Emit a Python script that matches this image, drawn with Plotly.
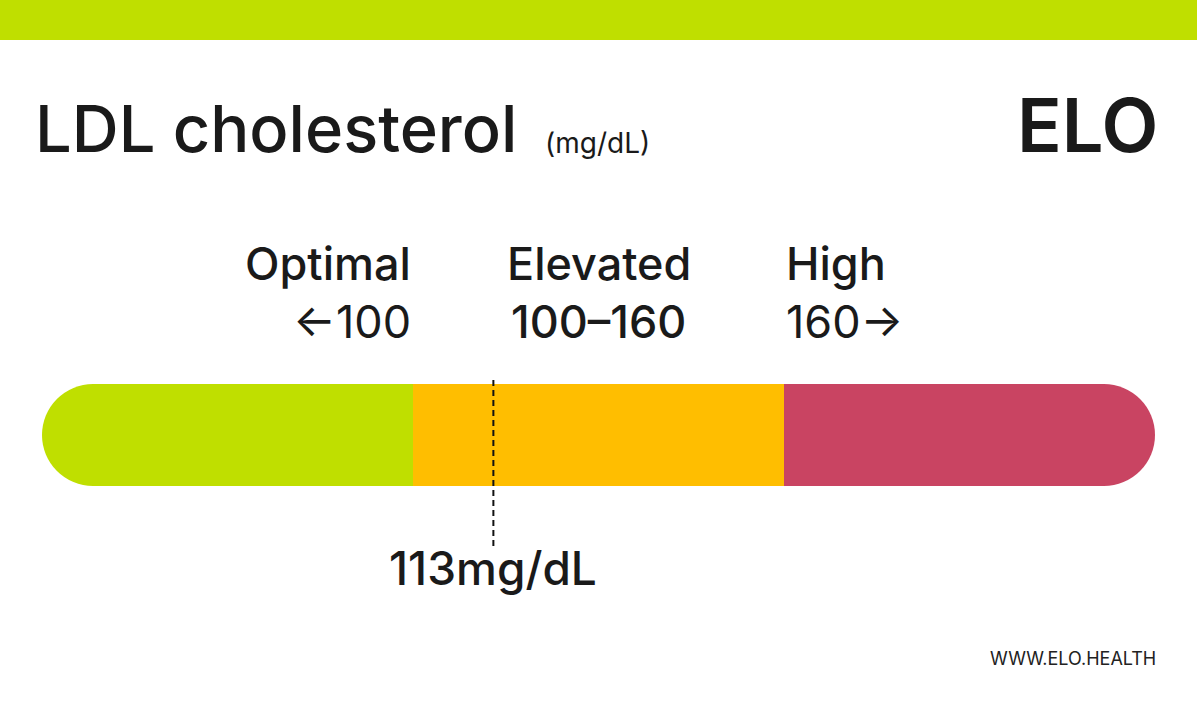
import plotly.graph_objects as go

# data
bounds = [40, 100, 160, 220]          # mg/dL segment boundaries
seg_colors = ["#BFDF00", "#FFBE00", "#C94462"]
categories = ["Optimal", "Elevated", "High"]
range_labels = ["←100", "100–160", "160→"]
value = 113
unit = "mg/dL"

W, H = 1197, 708
pxu = 371 / 60.0                 # pixels per mg/dL
x0 = 100 - 413 / pxu
x1 = x0 + W / pxu
def pv(px): return x0 + px / pxu

ytop, ybot = 384, 486
r_units = (ybot - ytop) / 2 / pxu
fig = go.Figure()
shapes = []
shapes.append(dict(type="circle", xref="x", yref="y", x0=bounds[0], x1=bounds[0] + 2 * r_units,
                   y0=ytop, y1=ybot, fillcolor=seg_colors[0], line_width=0, layer="below"))
shapes.append(dict(type="circle", xref="x", yref="y", x0=bounds[-1] - 2 * r_units, x1=bounds[-1],
                   y0=ytop, y1=ybot, fillcolor=seg_colors[-1], line_width=0, layer="below"))
for i in range(3):
    a = bounds[i] + (r_units if i == 0 else 0)
    b = bounds[i + 1] - (r_units if i == 2 else 0)
    shapes.append(dict(type="rect", xref="x", yref="y", x0=a, x1=b, y0=ytop, y1=ybot,
                       fillcolor=seg_colors[i], line_width=0, layer="below"))
shapes.append(dict(type="rect", xref="paper", yref="y", x0=0, x1=1, y0=0, y1=40,
                   fillcolor="#BFDF00", line_width=0))
fig.add_trace(go.Scatter(x=[value, value], y=[380, 546], mode="lines",
                         line=dict(color="#111", width=2, dash="6px,4px"), hoverinfo="skip"))

F = "Inter"
ann = []
def t(x, y, s, size, xa="left", col="#1a1a1a", w=None):
    ann.append(dict(x=x, y=y, xref="x", yref="y", text=s, showarrow=False, xanchor=xa,
                    yanchor="middle", font=dict(family=F, size=size, color=col, weight=w)))
t(pv(33), 128, "LDL cholesterol", 65, w=500)
t(pv(543), 143, "(" + unit + ")", 28)
t(pv(1160), 125, "ELO", 74, xa="right", w=600)
t(bounds[1], 263, categories[0], 45, xa="right", w=500)
t(bounds[1], 321, range_labels[0], 45, xa="right")
mid = (bounds[1] + bounds[2]) / 2
t(mid, 263, categories[1], 45, xa="center", w=500)
t(mid, 321, range_labels[1], 45, xa="center", w=500)
t(bounds[2], 263, categories[2], 45, xa="left", w=500)
t(bounds[2], 321, range_labels[2], 45, xa="left")
t(value, 568, f"{value}{unit}", 46, xa="center", w=500)
t(pv(1158), 658, "WWW.ELO.HEALTH", 18, xa="right", col="#222")

fig.update_layout(width=W, height=H, margin=dict(l=0, r=0, t=0, b=0),
                  paper_bgcolor="white", plot_bgcolor="white", showlegend=False,
                  shapes=shapes, annotations=ann,
                  xaxis=dict(range=[x0, x1], visible=False, fixedrange=True),
                  yaxis=dict(range=[H, 0], visible=False, fixedrange=True))
fig.write_html("out.html", config={"displayModeBar": False})
with open("out.html", encoding="utf-8") as f:
    html = f.read()
html = html.replace("<body>", '<body style="margin:0;overflow:hidden">', 1)
with open("out.html", "w", encoding="utf-8") as f:
    f.write(html)
